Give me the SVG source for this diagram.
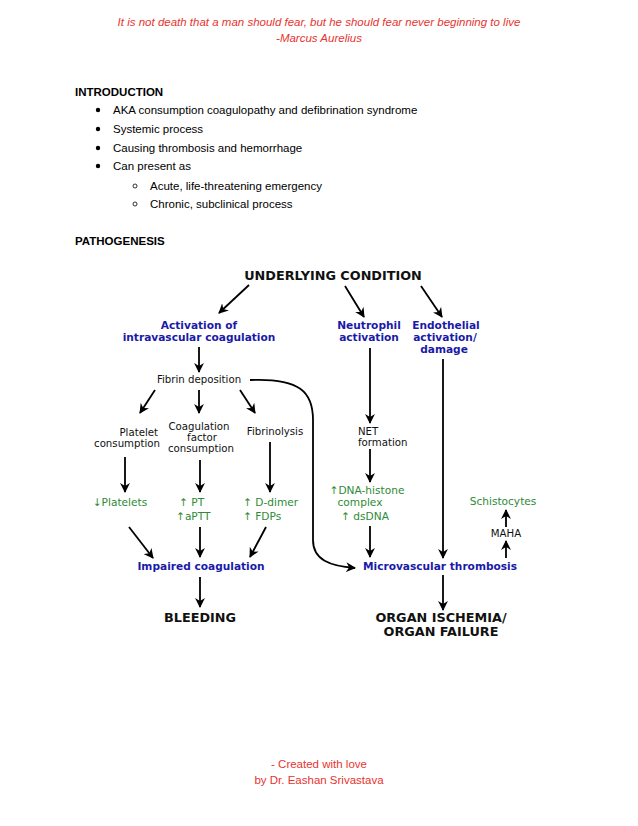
<svg xmlns="http://www.w3.org/2000/svg" width="638" height="826" viewBox="0 0 638 826">
<defs>
<style>
.q{font-family:"Liberation Sans",Arial,sans-serif;font-size:11.5px;fill:#e8332f;text-anchor:middle}
.h{font-family:"Liberation Sans",Arial,sans-serif;font-size:11.5px;font-weight:bold;fill:#000}
.b{font-family:"Liberation Sans",Arial,sans-serif;font-size:11.5px;fill:#000}
.cap{font-family:"DejaVu Sans",Verdana,sans-serif;font-size:12.8px;font-weight:bold;fill:#111;text-anchor:middle}
.blue{font-family:"DejaVu Sans",Verdana,sans-serif;font-size:10.6px;font-weight:bold;fill:#1a1aa8;text-anchor:middle}
.n{font-family:"DejaVu Sans",Verdana,sans-serif;font-size:10.2px;fill:#111;text-anchor:middle}
.g{font-family:"DejaVu Sans",Verdana,sans-serif;font-size:10.6px;fill:#2e8a36;text-anchor:middle}
.s{text-anchor:start}
.e{text-anchor:end}
.ln{stroke:#000;stroke-width:1.8;fill:none;marker-end:url(#ah)}
</style>
<marker id="ah" viewBox="0 0 10 10" refX="9" refY="5" markerWidth="5.5" markerHeight="5.5" orient="auto" markerUnits="strokeWidth">
<path d="M0,0 L10,5 L0,10 L3,5 z" fill="#000"/>
</marker>
</defs>
<rect width="638" height="826" fill="#fff"/>
<g id="quote">
<text class="q" x="319" y="26" font-style="italic">It is not death that a man should fear, but he should fear never beginning to live</text>
<text class="q" x="319" y="42" font-style="italic">-Marcus Aurelius</text>
</g>
<g id="intro">
<text class="h" x="75" y="96">INTRODUCTION</text>
<circle cx="98" cy="110" r="2.2" fill="#000"/>
<text class="b" x="113" y="114">AKA consumption coagulopathy and defibrination syndrome</text>
<circle cx="98" cy="129" r="2.2" fill="#000"/>
<text class="b" x="113" y="133">Systemic process</text>
<circle cx="98" cy="148" r="2.2" fill="#000"/>
<text class="b" x="113" y="152">Causing thrombosis and hemorrhage</text>
<circle cx="98" cy="166" r="2.2" fill="#000"/>
<text class="b" x="113" y="170">Can present as</text>
<circle cx="135" cy="186" r="2" fill="none" stroke="#000" stroke-width="0.8"/>
<text class="b" x="150" y="190">Acute, life-threatening emergency</text>
<circle cx="135" cy="204" r="2" fill="none" stroke="#000" stroke-width="0.8"/>
<text class="b" x="150" y="208">Chronic, subclinical process</text>
<text class="h" x="75" y="245">PATHOGENESIS</text>
</g>
<g id="connectors">
<line class="ln" x1="249" y1="285" x2="219" y2="313"/>
<line class="ln" x1="345" y1="286" x2="364" y2="317"/>
<line class="ln" x1="421" y1="286" x2="442" y2="317"/>
<line class="ln" x1="199" y1="347" x2="199" y2="372"/>
<path class="ln" d="M250,380 C300,378 313,392 313,420 L313,540 C313,560 330,566 355,568"/>
<line class="ln" x1="155" y1="390" x2="140" y2="413"/>
<line class="ln" x1="199" y1="390" x2="199" y2="413"/>
<line class="ln" x1="240" y1="390" x2="255" y2="413"/>
<line class="ln" x1="125" y1="457" x2="125" y2="492"/>
<line class="ln" x1="200" y1="460" x2="200" y2="492"/>
<line class="ln" x1="270" y1="442" x2="270" y2="492"/>
<line class="ln" x1="129" y1="527" x2="153" y2="558"/>
<line class="ln" x1="200" y1="527" x2="200" y2="557"/>
<line class="ln" x1="266" y1="527" x2="250" y2="557"/>
<line class="ln" x1="200" y1="577" x2="200" y2="607"/>
<line class="ln" x1="370" y1="348" x2="370" y2="423"/>
<line class="ln" x1="370" y1="449" x2="370" y2="482"/>
<line class="ln" x1="370" y1="526" x2="370" y2="557"/>
<line class="ln" x1="443" y1="359" x2="443" y2="558"/>
<line class="ln" x1="443" y1="575" x2="443" y2="610"/>
<line class="ln" x1="506" y1="558" x2="506" y2="541"/>
<line class="ln" x1="506" y1="527" x2="506" y2="510"/>
</g>
<g id="underlying"><text class="cap" x="333" y="280">UNDERLYING CONDITION</text></g>
<g id="activation"><text class="blue" x="199" y="329">Activation of</text><text class="blue" x="199" y="341">intravascular coagulation</text></g>
<g id="neutrophil"><text class="blue" x="369" y="329">Neutrophil</text><text class="blue" x="369" y="341">activation</text></g>
<g id="endothelial"><text class="blue" x="446" y="329">Endothelial</text><text class="blue" x="445" y="341">activation/</text><text class="blue" x="444" y="353">damage</text></g>
<g id="fibrin"><text class="n" x="199" y="383">Fibrin deposition</text></g>
<g id="platelet"><text class="n e" x="158" y="436">Platelet</text><text class="n e" x="160" y="447">consumption</text></g>
<g id="coagfactor"><text class="n" x="199" y="430">Coagulation</text><text class="n" x="202" y="441">factor</text><text class="n" x="201" y="452">consumption</text></g>
<g id="fibrinolysis"><text class="n" x="275" y="435">Fibrinolysis</text></g>
<g id="net"><text class="n s" x="358" y="435">NET</text><text class="n s" x="358" y="446">formation</text></g>
<g id="platelets"><text class="g" x="120" y="506">↓Platelets</text></g>
<g id="pt"><text class="g s" x="179" y="506">↑ PT</text><text class="g s" x="176" y="520">↑aPTT</text></g>
<g id="ddimer"><text class="g s" x="243" y="506">↑ D-dimer</text><text class="g s" x="243" y="520">↑ FDPs</text></g>
<g id="dna"><text class="g" x="367" y="494">↑DNA-histone</text><text class="g" x="360" y="505.5">complex</text><text class="g" x="365" y="520">↑ dsDNA</text></g>
<g id="schisto"><text class="g" x="503" y="505">Schistocytes</text></g>
<g id="maha"><text class="n" x="506" y="537">MAHA</text></g>
<g id="impaired"><text class="blue" x="201" y="570">Impaired coagulation</text></g>
<g id="microvascular"><text class="blue" x="440" y="570">Microvascular thrombosis</text></g>
<g id="bleeding"><text class="cap" x="200" y="622">BLEEDING</text></g>
<g id="organ"><text class="cap" x="441" y="622">ORGAN ISCHEMIA/</text><text class="cap" x="441" y="636">ORGAN FAILURE</text></g>
<g id="footer">
<text class="q" x="319" y="768">- Created with love</text>
<text class="q" x="319" y="784">by Dr. Eashan Srivastava</text>
</g>
</svg>
